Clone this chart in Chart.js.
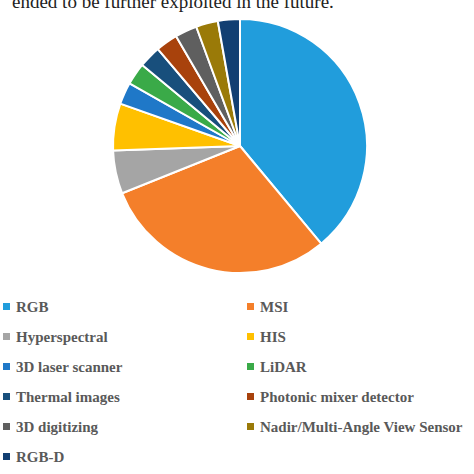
<!DOCTYPE html>
<html>
<head>
<meta charset="utf-8">
<script src="https://cdn.jsdelivr.net/npm/chart.js@4"></script>
<style>
  body { margin: 0; width: 474px; height: 474px; overflow: hidden; background: #fff; position: relative; }
  #caption { position: absolute; left: 12px; top: -9px; font: 19px "Liberation Serif", serif; color: #222; white-space: nowrap; }
  #pie { position: absolute; left: 110px; top: 16px; }
  .item { position: absolute; font: bold 15px "Liberation Serif", serif; color: #595959; white-space: nowrap; }
  .item span { display: inline-block; width: 7px; height: 7px; margin-right: 6px; vertical-align: 2px; }
</style>
</head>
<body>
<div id="caption">ended to be further exploited in the future.</div>
<canvas id="pie" width="260" height="260"></canvas>
<div id="legend"></div>
<script>
const categories = ['RGB', 'MSI', 'Hyperspectral', 'HIS', '3D laser scanner', 'LiDAR',
  'Thermal images', 'Photonic mixer detector', '3D digitizing', 'Nadir/Multi-Angle View Sensor', 'RGB-D'];
const shares = [39, 30, 5.5, 6, 2.8, 2.8, 2.8, 2.8, 2.8, 2.8, 2.8];
const colors = ['#219ddc', '#f47f2a', '#a5a5a5', '#ffc000', '#1f78c8', '#3aaa48',
  '#184f7c', '#a8420c', '#5f5f5f', '#9a7a08', '#123f72'];

new Chart(document.getElementById('pie'), {
  type: 'pie',
  data: {
    labels: categories,
    datasets: [{ data: shares, backgroundColor: colors, borderColor: '#fff', borderWidth: 2 }]
  },
  options: {
    responsive: false,
    animation: false,
    layout: { padding: 2 },
    plugins: { legend: { display: false }, tooltip: { enabled: false } }
  }
});

// two-column legend under the pie
const legend = document.getElementById('legend');
categories.forEach((name, i) => {
  const el = document.createElement('div');
  el.className = 'item';
  el.style.left = (i % 2 ? 247 : 3) + 'px';
  el.style.top = (299 + Math.floor(i / 2) * 30) + 'px';
  el.innerHTML = '<span style="background:' + colors[i] + '"></span>' + name;
  legend.appendChild(el);
});
</script>
</body>
</html>
